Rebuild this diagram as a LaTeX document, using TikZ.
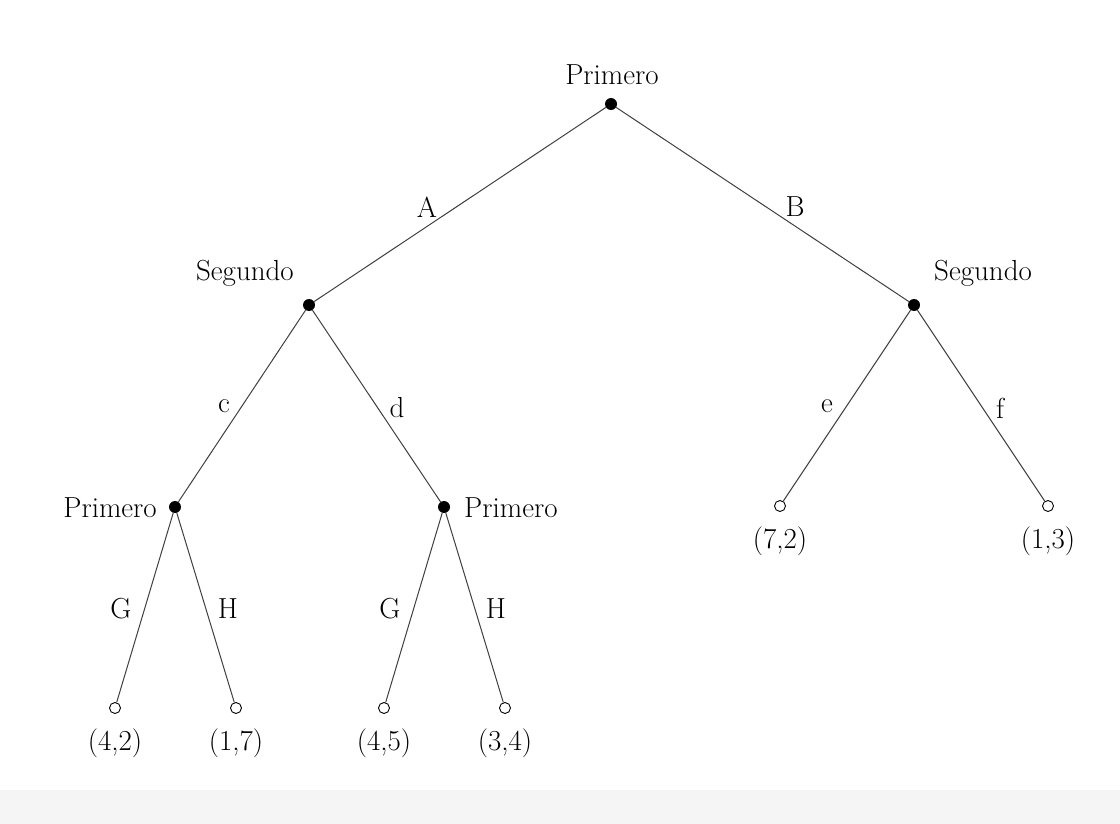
\documentclass[tikz,border=0pt]{standalone}
\begin{document}
\begin{tikzpicture}[x=1pt,y=-1pt,
  dec/.style={circle,fill=black,inner sep=0pt,minimum size=12pt},
  leaf/.style={circle,draw=black,fill=white,line width=0.9pt,inner sep=0pt,minimum size=11pt},
  lbl/.style={font=\fontsize{29}{34}\selectfont,inner sep=0pt},
  br/.style={draw=black!75,line width=1pt}]
\fill[white] (0,0) rectangle (1120,824);
\fill[black!4] (0,790) rectangle (1120,824);
\useasboundingbox (0,0) rectangle (1120,824);
\node[dec] (r) at (611,104) {};
\node[dec] (sl) at (309,305) {};
\node[dec] (sr) at (914,305) {};
\node[dec] (pl) at (175,507) {};
\node[dec] (pr) at (444,507) {};
\node[leaf] (l1) at (115,708) {};
\node[leaf] (l2) at (236,708) {};
\node[leaf] (l3) at (384,708) {};
\node[leaf] (l4) at (505,708) {};
\node[leaf] (le) at (780,506) {};
\node[leaf] (lf) at (1048,506) {};
\draw[br] (r) -- (sl); \draw[br] (r) -- (sr);
\draw[br] (sl) -- (pl); \draw[br] (sl) -- (pr);
\draw[br] (sr) -- (le); \draw[br] (sr) -- (lf);
\draw[br] (pl) -- (l1); \draw[br] (pl) -- (l2);
\draw[br] (pr) -- (l3); \draw[br] (pr) -- (l4);
\node[lbl] (t1) at (612,75) {Primero};
\node[lbl,anchor=east] (t2) at (294,273) {Segundo};
\node[lbl,anchor=west] (t3) at (934,273) {Segundo};
\node[lbl,anchor=east] (t4) at (157,508) {Primero};
\node[lbl,anchor=west] (t5) at (464,508) {Primero};
\node[lbl] (eA) at (427,207) {A};
\node[lbl] (eB) at (795,207) {B};
\node[lbl] (ec) at (224,406) {c};
\node[lbl] (ed) at (397,408) {d};
\node[lbl] (ee) at (827,406) {e};
\node[lbl] (ef) at (1000,408) {f};
\node[lbl] (eG1) at (121,609) {G};
\node[lbl] (eH1) at (228,609) {H};
\node[lbl] (eG2) at (390,609) {G};
\node[lbl] (eH2) at (496,609) {H};
\node[lbl] (p1) at (115,743) {(4,2)};
\node[lbl] (p2) at (236,743) {(1,7)};
\node[lbl] (p3) at (384,743) {(4,5)};
\node[lbl] (p4) at (505,743) {(3,4)};
\node[lbl] (p5) at (780,541) {(7,2)};
\node[lbl] (p6) at (1048,541) {(1,3)};
\end{tikzpicture}
\end{document}
